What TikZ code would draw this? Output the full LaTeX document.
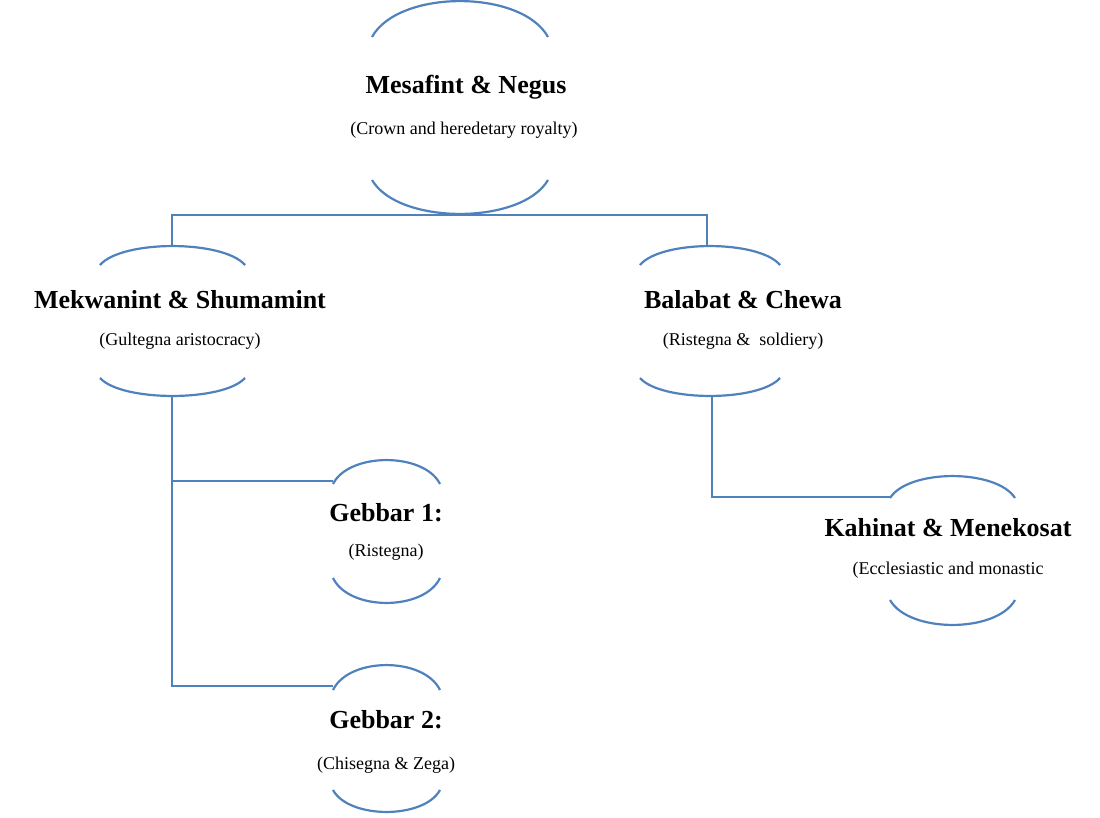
\documentclass[tikz,border=0pt]{standalone}
\usepackage{fontspec}
\setmainfont{Liberation Serif}
\definecolor{arcblue}{RGB}{79,129,189}
\begin{document}
\begin{tikzpicture}[x=1pt,y=-1pt,
  ln/.style={draw=arcblue,line width=2.2pt},
  ttl/.style={font=\bfseries\fontsize{26}{28}\selectfont,inner sep=0pt},
  sub/.style={font=\fontsize{18}{20}\selectfont,inner sep=0pt}]
\useasboundingbox (0,0) rectangle (1100,817);
% arcs: \arcpair{x1}{x2}{top end y}{top peak}{bottom end y}{bottom low}
\newcommand\arcpair[6]{%
  \draw[ln] (#1,#3) .. controls ({#1+0.15*(#2-#1)},{#3-1.33*(#3-#4)}) and ({#2-0.15*(#2-#1)},{#3-1.33*(#3-#4)}) .. (#2,#3);
  \draw[ln] (#1,#5) .. controls ({#1+0.15*(#2-#1)},{#5+1.33*(#6-#5)}) and ({#2-0.15*(#2-#1)},{#5+1.33*(#6-#5)}) .. (#2,#5);}
\arcpair{372}{548}{37}{1}{180}{214}
\arcpair{100}{245}{265}{246}{378}{396}
\arcpair{640}{780}{265}{246}{378}{396}
\arcpair{333}{440}{484}{460}{578}{603}
\arcpair{333}{440}{690}{665}{790}{812}
\arcpair{890}{1015}{498}{476}{600}{625}

\node[ttl] (mn) at (466,87) {Mesafint \& Negus};
\node[sub] (mns) at (464,130) {(Crown and heredetary royalty)};
\node[ttl] (mk) at (180,300) {Mekwanint \& Shumamint};
\node[sub] (mks) at (180,341) {(Gultegna aristocracy)};
\node[ttl] (bc) at (743,300) {Balabat \& Chewa};
\node[sub] (bcs) at (743,341) {(Ristegna \&\ \ soldiery)};
\node[ttl] (g1) at (386,513) {Gebbar 1:};
\node[sub] (g1s) at (386,552) {(Ristegna)};
\node[ttl] (g2) at (386,720) {Gebbar 2:};
\node[sub] (g2s) at (386,765) {(Chisegna \& Zega)};
\node[ttl] (kh) at (948,528) {Kahinat \& Menekosat};
\node[sub] (khs) at (948,570) {(Ecclesiastic and monastic};

\coordinate (top) at (458,215);
\coordinate (l) at (172,215);
\coordinate (r) at (707,215);
\coordinate (lb) at (172,246);
\coordinate (rb) at (707,246);
\coordinate (mkb) at (172,396);
\coordinate (j1) at (172,481);
\coordinate (g1t) at (333,481);
\coordinate (j2) at (172,686);
\coordinate (g2t) at (333,686);
\coordinate (bcb) at (712,396);
\coordinate (j3) at (712,497);
\coordinate (kht) at (890,497);
\draw[ln] (lb) -- (l) -- (r) -- (rb);
\draw[ln] (mkb) -- (j2) -- (g2t);
\draw[ln] (j1) -- (g1t);
\draw[ln] (bcb) -- (j3) -- (kht);
\end{tikzpicture}
\end{document}
